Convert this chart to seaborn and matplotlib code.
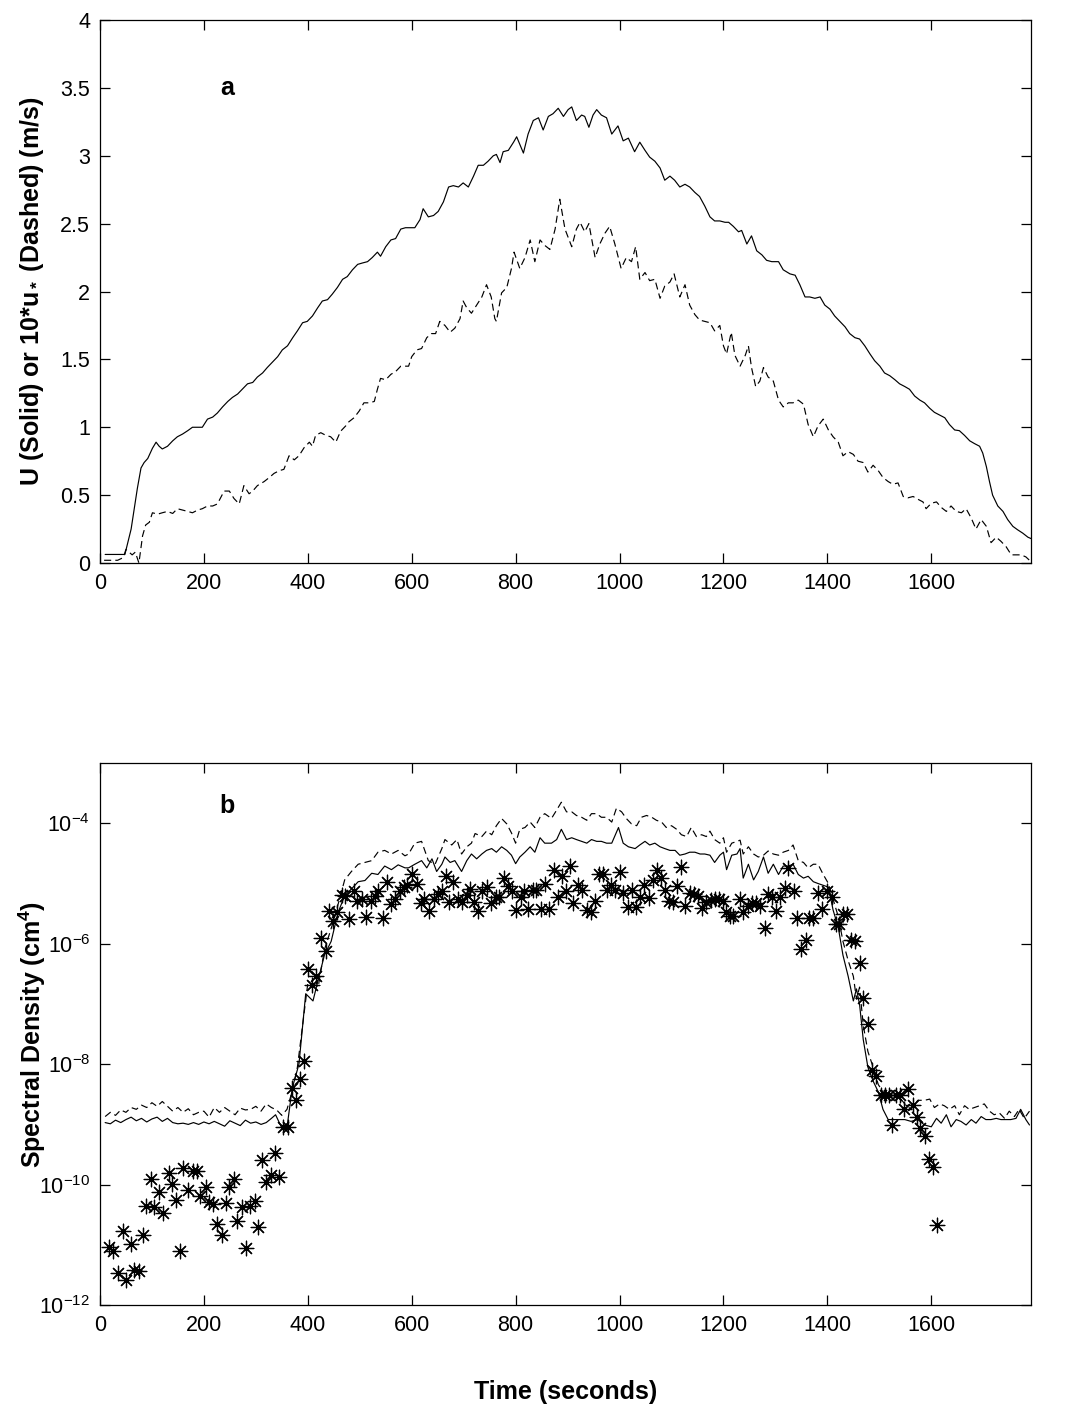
import numpy as np
import matplotlib
matplotlib.use("Agg")
import matplotlib.pyplot as plt
import seaborn as sns
from matplotlib.ticker import FormatStrFormatter, NullLocator, FixedLocator

# ---------------- data ----------------
# Panel a: time (s), U (m/s) solid
u_solid = [(10,0.063),(48,0.063),(53,0.14),(60,0.25),(66,0.40),(72,0.55),(79,0.70),(85,0.74),(92,0.77),
 (101,0.845),(108,0.89),(114,0.86),(120,0.84),(130,0.86),(140,0.90),(149,0.93),(159,0.95),(169,0.975),
 (178,1.0),(188,1.0),(197,1.0),(207,1.06),(217,1.075),(226,1.105),(236,1.15),(246,1.19),(255,1.22),
 (265,1.245),(274,1.28),(284,1.32),(294,1.33),(303,1.37),(313,1.40),(322,1.44),(332,1.48),(342,1.52),
 (351,1.57),(361,1.60),(371,1.66),(380,1.71),(390,1.77),(399,1.78),(409,1.82),(419,1.88),(428,1.93),
 (438,1.94),(447,1.98),(457,2.03),(467,2.09),(476,2.11),(486,2.16),(496,2.20),(505,2.21),(515,2.22),
 (524,2.25),(534,2.29),(540,2.26),(550,2.33),(560,2.38),(569,2.39),(579,2.46),(588,2.47),(598,2.47),
 (606,2.47),(616,2.53),(622,2.61),(632,2.55),(642,2.56),(651,2.59),(661,2.66),(671,2.77),(680,2.78),
 (690,2.77),(699,2.80),(709,2.77),(719,2.85),(728,2.93),(738,2.93),(747,2.96),(757,3.00),(763,3.01),
 (770,2.95),(776,3.03),(786,3.04),(796,3.10),(802,3.14),(815,3.02),(824,3.16),(834,3.26),(844,3.28),
 (853,3.19),(863,3.29),(872,3.31),(882,3.35),(892,3.29),(901,3.34),(908,3.36),(917,3.26),(927,3.30),
 (933,3.29),(941,3.21),(949,3.30),(956,3.34),(965,3.30),(975,3.28),(985,3.16),(997,3.22),(1007,3.11),
 (1017,3.13),(1029,3.03),(1039,3.10),(1049,3.04),(1058,2.99),(1068,2.96),(1078,2.91),(1087,2.82),
 (1097,2.85),(1106,2.82),(1116,2.77),(1126,2.79),(1135,2.77),(1145,2.73),(1154,2.70),(1164,2.63),
 (1174,2.55),(1183,2.52),(1193,2.52),(1203,2.51),(1210,2.51),(1219,2.48),(1229,2.44),(1235,2.45),
 (1245,2.35),(1254,2.41),(1264,2.30),(1274,2.27),(1283,2.23),(1293,2.22),(1306,2.22),(1315,2.16),
 (1328,2.13),(1338,2.12),(1347,2.05),(1357,1.96),(1366,1.96),(1376,1.95),(1386,1.96),(1395,1.90),
 (1405,1.87),(1414,1.82),(1424,1.78),(1434,1.74),(1443,1.69),(1453,1.66),(1462,1.65),(1472,1.60),
 (1482,1.54),(1491,1.49),(1501,1.45),(1510,1.40),(1520,1.38),(1530,1.35),(1539,1.32),(1549,1.30),
 (1558,1.28),(1568,1.23),(1578,1.20),(1587,1.18),(1597,1.14),(1606,1.11),(1616,1.09),(1626,1.07),
 (1635,1.02),(1645,0.98),(1654,0.975),(1664,0.94),(1674,0.90),(1683,0.88),(1693,0.86),(1699,0.81),
 (1706,0.71),(1712,0.60),(1718,0.50),(1728,0.42),(1738,0.38),(1747,0.32),(1757,0.27),(1766,0.245),
 (1776,0.22),(1786,0.19),(1792,0.18)]

# Panel a: time (s), 10*u* (m/s) dashed
ustar_dashed = [(8,0.02),(20,0.02),(34,0.02),(45,0.04),(50,0.10),(56,0.08),(62,0.06),(68,0.08),(75,0.0),
 (82,0.20),(88,0.28),(95,0.30),(101,0.37),(111,0.36),(120,0.37),(130,0.38),(140,0.365),(149,0.40),
 (159,0.39),(169,0.38),(178,0.37),(188,0.39),(197,0.40),(207,0.42),(217,0.42),(226,0.435),(239,0.53),
 (249,0.53),(258,0.475),(268,0.435),(277,0.57),(287,0.51),(294,0.53),(303,0.57),(316,0.60),(326,0.63),
 (335,0.66),(345,0.68),(354,0.69),(364,0.79),(374,0.76),(383,0.79),(393,0.85),(403,0.89),(409,0.86),
 (415,0.94),(425,0.96),(435,0.94),(444,0.93),(454,0.89),(463,0.97),(473,1.01),(479,1.04),(489,1.07),
 (499,1.12),(508,1.18),(518,1.18),(528,1.19),(534,1.28),(540,1.36),(550,1.35),(560,1.39),(569,1.41),
 (579,1.45),(588,1.45),(594,1.45),(600,1.52),(610,1.57),(619,1.58),(629,1.66),(638,1.69),(646,1.69),
 (654,1.78),(664,1.75),(674,1.70),(683,1.73),(693,1.80),(699,1.93),(706,1.88),(715,1.84),(725,1.90),
 (735,1.96),(744,2.05),(753,1.96),(760,1.80),(763,1.78),(773,1.99),(783,2.03),(792,2.17),(797,2.29),
 (808,2.17),(818,2.25),(828,2.38),(837,2.22),(847,2.38),(856,2.34),(866,2.31),(876,2.46),(885,2.68),
 (895,2.46),(908,2.33),(917,2.46),(924,2.51),(933,2.44),(941,2.50),(953,2.25),(962,2.35),(972,2.43),
 (981,2.48),(991,2.35),(1003,2.17),(1013,2.25),(1023,2.22),(1031,2.33),(1039,2.09),(1049,2.14),
 (1058,2.08),(1068,2.09),(1078,1.95),(1087,2.04),(1097,2.07),(1105,2.13),(1116,1.96),(1126,2.05),
 (1135,1.90),(1145,1.83),(1154,1.79),(1164,1.78),(1174,1.77),(1183,1.71),(1193,1.75),(1200,1.60),
 (1206,1.54),(1215,1.70),(1222,1.53),(1232,1.45),(1242,1.53),(1248,1.60),(1254,1.44),(1262,1.30),
 (1270,1.34),(1277,1.44),(1286,1.37),(1296,1.34),(1306,1.20),(1315,1.15),(1325,1.18),(1334,1.18),
 (1344,1.20),(1354,1.17),(1363,1.02),(1373,0.93),(1382,1.01),(1392,1.06),(1402,0.98),(1411,0.93),
 (1421,0.89),(1430,0.79),(1440,0.82),(1450,0.80),(1459,0.75),(1469,0.74),(1478,0.67),(1488,0.72),
 (1498,0.68),(1507,0.63),(1517,0.60),(1526,0.58),(1536,0.59),(1546,0.49),(1555,0.48),(1565,0.49),
 (1574,0.47),(1584,0.45),(1590,0.40),(1600,0.44),(1610,0.45),(1619,0.41),(1629,0.38),(1638,0.42),
 (1648,0.38),(1658,0.37),(1667,0.40),(1677,0.33),(1686,0.25),(1696,0.32),(1706,0.27),(1715,0.15),
 (1725,0.19),(1734,0.16),(1744,0.12),(1754,0.06),(1763,0.06),(1773,0.06),(1782,0.045),(1789,0.02)]

# Panel b: time (s), log10 spectral density (cm^4), solid line
spec_solid_log = [(10,-8.97),(20,-8.99),(30,-8.93),(40,-8.97),(50,-8.92),(60,-8.88),(70,-8.94),(80,-8.90),
 (90,-8.96),(100,-8.91),(110,-8.88),(120,-8.95),(130,-8.90),(140,-8.97),(150,-8.99),(160,-8.98),
 (170,-9.00),(180,-8.97),(190,-9.00),(200,-8.96),(210,-8.99),(220,-8.95),(230,-8.99),(240,-9.03),
 (250,-8.94),(260,-8.98),(270,-9.02),(280,-8.93),(290,-8.98),(300,-8.96),(310,-9.00),(320,-8.97),
 (330,-8.90),(338,-8.84),(350,-9.06),(360,-9.05),(370,-8.40),(383,-8.0),(396,-6.83),(410,-6.95),
 (420,-6.6),(432,-6.19),(445,-5.96),(458,-5.49),(471,-5.2),(484,-5.09),(497,-4.97),(510,-4.95),
 (523,-4.83),(535,-4.85),(548,-4.71),(561,-4.77),(574,-4.69),(587,-4.74),(594,-4.74),(606,-4.68),
 (619,-4.62),(629,-4.74),(639,-4.59),(648,-4.80),(658,-4.68),(664,-4.56),(674,-4.65),(683,-4.62),
 (696,-4.80),(706,-4.62),(715,-4.51),(725,-4.59),(735,-4.51),(744,-4.45),(754,-4.42),(763,-4.48),
 (773,-4.39),(783,-4.45),(792,-4.53),(800,-4.67),(808,-4.56),(818,-4.48),(828,-4.39),(837,-4.48),
 (847,-4.24),(856,-4.33),(869,-4.33),(879,-4.27),(888,-4.10),(898,-4.27),(908,-4.24),(917,-4.27),
 (927,-4.30),(937,-4.33),(946,-4.27),(956,-4.30),(965,-4.30),(975,-4.33),(985,-4.33),(998,-4.07),
 (1007,-4.33),(1017,-4.39),(1030,-4.42),(1039,-4.36),(1049,-4.30),(1058,-4.36),(1068,-4.33),
 (1078,-4.39),(1087,-4.42),(1097,-4.45),(1107,-4.45),(1116,-4.53),(1126,-4.51),(1135,-4.48),
 (1145,-4.48),(1155,-4.51),(1164,-4.51),(1174,-4.53),(1183,-4.65),(1193,-4.53),(1200,-4.48),
 (1206,-4.77),(1216,-4.53),(1226,-4.51),(1232,-4.42),(1238,-4.91),(1248,-4.68),(1258,-4.94),
 (1267,-4.80),(1277,-4.56),(1286,-4.83),(1296,-4.68),(1306,-4.85),(1315,-4.71),(1325,-4.71),
 (1334,-4.68),(1344,-4.85),(1354,-4.91),(1363,-4.88),(1373,-4.97),(1382,-5.00),(1392,-5.03),
 (1402,-5.06),(1411,-5.44),(1421,-5.73),(1430,-6.19),(1440,-6.54),(1450,-6.95),(1456,-6.75),
 (1462,-7.01),(1469,-7.59),(1478,-8.05),(1488,-8.28),(1498,-8.46),(1507,-8.75),(1517,-8.92),
 (1529,-8.92),(1539,-8.92),(1549,-8.92),(1561,-8.95),(1574,-8.92),(1587,-9.01),(1600,-9.04),
 (1610,-8.90),(1619,-8.98),(1629,-8.84),(1638,-9.04),(1648,-8.92),(1657,-8.95),(1667,-9.01),
 (1677,-8.92),(1686,-8.98),(1696,-8.87),(1705,-8.92),(1715,-8.92),(1725,-8.90),(1734,-8.92),
 (1744,-8.92),(1753,-8.92),(1763,-8.90),(1772,-8.75),(1782,-8.92),(1789,-9.01)]

# Panel b: time (s), log10 spectral density (cm^4), dashed line
spec_dashed_log = [(10,-8.87),(20,-8.80),(30,-8.85),(40,-8.76),(50,-8.80),(60,-8.72),(70,-8.75),(80,-8.68),
 (90,-8.72),(100,-8.64),(110,-8.70),(120,-8.62),(130,-8.70),(140,-8.78),(150,-8.72),(160,-8.80),
 (170,-8.74),(180,-8.84),(190,-8.80),(200,-8.78),(210,-8.88),(220,-8.72),(230,-8.80),(240,-8.72),
 (250,-8.78),(260,-8.84),(270,-8.73),(280,-8.76),(290,-8.75),(300,-8.70),(310,-8.78),(320,-8.66),
 (330,-8.72),(340,-8.76),(350,-8.85),(360,-8.75),(370,-8.45),(380,-8.05),(390,-7.35),(400,-6.66),
 (410,-6.66),(420,-6.72),(432,-6.1),(450,-5.61),(471,-4.94),(484,-4.8),(497,-4.68),(510,-4.65),
 (523,-4.62),(535,-4.48),(548,-4.45),(561,-4.51),(574,-4.45),(587,-4.54),(594,-4.51),(606,-4.33),
 (619,-4.30),(632,-4.62),(645,-4.68),(658,-4.42),(664,-4.27),(677,-4.36),(687,-4.27),(696,-4.51),
 (706,-4.39),(715,-4.33),(722,-4.17),(735,-4.22),(744,-4.13),(754,-4.19),(763,-4.04),(773,-3.92),
 (783,-4.01),(792,-4.16),(800,-4.33),(808,-4.10),(818,-4.07),(828,-3.98),(837,-4.07),(847,-3.90),
 (856,-3.84),(869,-3.92),(879,-3.78),(888,-3.65),(898,-3.81),(908,-3.81),(917,-3.87),(927,-3.90),
 (937,-3.95),(946,-3.84),(956,-3.84),(965,-3.90),(975,-3.90),(985,-3.98),(994,-3.75),(1004,-3.81),
 (1013,-3.92),(1023,-4.01),(1033,-4.04),(1042,-3.90),(1052,-3.87),(1062,-3.90),(1071,-3.95),
 (1081,-3.98),(1090,-4.07),(1100,-4.04),(1110,-4.10),(1119,-4.19),(1129,-4.22),(1138,-4.07),
 (1148,-4.22),(1158,-4.19),(1167,-4.22),(1174,-4.13),(1183,-4.27),(1193,-4.33),(1200,-4.24),
 (1206,-4.48),(1216,-4.33),(1226,-4.30),(1232,-4.28),(1238,-4.51),(1248,-4.39),(1258,-4.51),
 (1267,-4.56),(1277,-4.53),(1286,-4.46),(1296,-4.51),(1306,-4.53),(1315,-4.48),(1325,-4.45),
 (1334,-4.36),(1344,-4.62),(1354,-4.65),(1363,-4.74),(1373,-4.68),(1382,-4.68),(1392,-4.85),
 (1402,-5.00),(1411,-5.26),(1421,-5.55),(1430,-5.96),(1440,-6.28),(1450,-6.54),(1456,-6.92),
 (1462,-6.72),(1469,-7.35),(1478,-7.79),(1488,-8.05),(1498,-8.34),(1510,-8.49),(1523,-8.52),
 (1536,-8.52),(1549,-8.66),(1561,-8.75),(1574,-8.60),(1587,-8.60),(1597,-8.58),(1606,-8.72),
 (1616,-8.66),(1625,-8.69),(1635,-8.75),(1645,-8.69),(1654,-8.84),(1664,-8.69),(1673,-8.75),
 (1683,-8.72),(1693,-8.69),(1702,-8.66),(1712,-8.78),(1721,-8.84),(1731,-8.81),(1741,-8.90),
 (1750,-8.78),(1760,-8.87),(1769,-8.75),(1779,-8.90),(1789,-8.78)]

# Panel b: time (s), log10 spectral density (cm^4), asterisk markers
spec_star_log = [(16.7,-11.03),(25.6,-11.10),(34.0,-11.47),(43.6,-10.77),(50.0,-11.58),(59.6,-10.99),
 (66.0,-11.41),(75.6,-11.44),(82.1,-10.84),(88.5,-10.35),(98.1,-9.91),(104.5,-10.37),(114.1,-10.13),
 (121.8,-10.47),(132.1,-9.80),(138.5,-9.99),(146.2,-10.25),(153.8,-11.10),(160.3,-9.73),(169.2,-10.09),
 (178.2,-9.77),(185.9,-9.77),(192.3,-10.19),(203.8,-10.04),(210.3,-10.29),(217.9,-10.32),(225.0,-10.66),
 (234.6,-10.84),(242.3,-10.30),(248.7,-10.04),(258.3,-9.91),(264.7,-10.60),(273.1,-10.37),(280.8,-11.06),
 (289.7,-10.35),(298.1,-10.27),(305.1,-10.70),(312.8,-9.59),(320.5,-9.96),(329.5,-9.84),(337.2,-9.48),
 (344.9,-9.87),(352.6,-9.04),(361.5,-9.05),(369.2,-8.40),(376.9,-8.59),(384.6,-8.24),(392.3,-7.94),
 (401.3,-6.42),(409.0,-6.69),(416.7,-6.54),(425.0,-5.90),(434.6,-6.12),(441.0,-5.45),(448.7,-5.63),
 (457.1,-5.48),(465.4,-5.19),(471.2,-5.20),(479.5,-5.59),(488.5,-5.13),(495.5,-5.29),(503.8,-5.25),
 (511.5,-5.55),(521.2,-5.29),(529.5,-5.20),(535.9,-5.12),(544.9,-5.57),(553.2,-4.97),(559.6,-5.34),
 (568.0,-5.26),(576.9,-5.12),(585.3,-5.05),(591.7,-5.03),
 (601.3,-4.84),(609.6,-5.00),(617.9,-5.32),(624.4,-5.25),(633.3,-5.45),(643.6,-5.26),(650,-5.17),
 (657.7,-5.12),(665.4,-4.87),(671.8,-5.31),(680.1,-4.97),(688.5,-5.26),(696.2,-5.31),(705.8,-5.19),
 (712.2,-5.09),(720.5,-5.31),(728.2,-5.45),(735.9,-5.13),(744.2,-5.06),(752.6,-5.32),(761.5,-5.22),
 (767.9,-5.23),(778.2,-4.91),(784.6,-5.04),(792.3,-5.12),(800,-5.44),(810.3,-5.23),(816.7,-5.12),
 (824.4,-5.42),(834,-5.10),(839.7,-5.10),(848.7,-5.42),(856.4,-5.00),(864.1,-5.42),(873.1,-4.77),
 (880.8,-5.22),(888.5,-4.88),(896.2,-5.13),(903.8,-4.71),(910.9,-5.33),(919.2,-5.02),(926.9,-5.10),
 (936.5,-5.44),(944.9,-5.48),(952.6,-5.29),(960.3,-4.84),(968,-4.84),(975,-5.10),(983.3,-5.03),
 (991,-5.10),(1000,-4.81),(1007,-5.16),(1015.4,-5.39),(1023.1,-5.10),(1031.4,-5.39),(1039.1,-5.23),
 (1047.4,-5.03),(1056.4,-5.24),(1064.7,-4.94),(1071.2,-4.77),(1079.5,-4.91),(1087.2,-5.10),
 (1094.9,-5.29),(1103.2,-5.31),(1111.5,-5.04),(1119.2,-4.73),(1126.9,-5.38),(1135.3,-5.15),
 (1143.6,-5.17),(1151.3,-5.20),(1159,-5.41),(1167.3,-5.31),(1175.6,-5.28),(1183.3,-5.26),
 (1191,-5.26),(1199.4,-5.29),(1205.8,-5.48),
 (1213,-5.54),(1219,-5.54),(1232,-5.26),(1238,-5.48),(1248,-5.38),(1254,-5.32),(1262,-5.32),
 (1270,-5.38),(1280,-5.74),(1285,-5.17),(1294,-5.22),(1302,-5.45),(1309,-5.22),(1318,-5.08),
 (1325,-4.75),(1336,-5.12),(1342,-5.58),(1350,-6.08),(1358,-5.94),(1364,-5.57),(1373,-5.57),
 (1381,-5.16),(1390,-5.42),(1399,-5.12),(1408,-5.23),(1416,-5.67),(1422,-5.68),(1430,-5.51),
 (1437,-5.51),(1446,-5.93),(1453,-5.95),(1462,-6.32),(1469,-6.90),(1478,-7.34),(1486,-8.10),
 (1494,-8.19),(1503,-8.52),(1510,-8.52),(1518,-8.51),(1524,-9.01),(1533,-8.52),(1539,-8.52),
 (1547,-8.75),(1555,-8.41),(1565,-8.68),(1573,-8.88),(1579,-9.06),(1588,-9.20),(1595,-9.58),
 (1603,-9.70),(1611,-10.67)]

x_ticks = [0, 200, 400, 600, 800, 1000, 1200, 1400, 1600]
top_y_ticks = [0, 0.5, 1, 1.5, 2, 2.5, 3, 3.5, 4]
bot_y_exponents = [-12, -10, -8, -6, -4]
x_max = 1792

# ---------------- style ----------------
sns.set_theme(style="ticks")
plt.rcParams["font.family"] = ["Liberation Sans", "DejaVu Sans"]
plt.rcParams["mathtext.fontset"] = "custom"
plt.rcParams["mathtext.rm"] = "Liberation Sans"
plt.rcParams["mathtext.it"] = "Liberation Sans:italic"
plt.rcParams["mathtext.bf"] = "Liberation Sans:bold"
plt.rcParams["mathtext.default"] = "regular"
plt.rcParams["text.color"] = "black"
plt.rcParams["axes.labelcolor"] = "black"
plt.rcParams["xtick.color"] = "black"
plt.rcParams["ytick.color"] = "black"

TICK_FS = 15.5
LAB_FS = 18
LW = 0.85
DASH = (0, (6, 3.5))

fig = plt.figure(figsize=(10.69, 14.21), dpi=100)
ax1 = fig.add_axes([0.0935, 0.6038, 0.871, 0.3821])
ax2 = fig.add_axes([0.0935, 0.0816, 0.871, 0.3814])


def unzip(pairs):
    a = np.array(pairs, dtype=float)
    return a[:, 0], a[:, 1]


def style_axes(ax):
    for s in ax.spines.values():
        s.set_visible(True)
        s.set_color("black")
        s.set_linewidth(0.9)
    ax.tick_params(axis="both", which="major", direction="in", length=7, width=0.9,
                   top=True, right=True, labelsize=TICK_FS, colors="black", pad=7)
    ax.set_facecolor("white")


# ---- panel a ----
t, v = unzip(u_solid)
sns.lineplot(x=t, y=v, ax=ax1, color="black", lw=LW, estimator=None, sort=False)
t, v = unzip(ustar_dashed)
sns.lineplot(x=t, y=v, ax=ax1, color="black", lw=LW, linestyle=DASH, estimator=None, sort=False)
ax1.set_xlim(0, x_max)
ax1.set_ylim(0, 4)
ax1.xaxis.set_major_locator(FixedLocator(x_ticks))
ax1.yaxis.set_major_locator(FixedLocator(top_y_ticks))
ax1.yaxis.set_major_formatter(FormatStrFormatter("%g"))
style_axes(ax1)
ax1.set_ylabel(r"U (Solid) or 10*u$_*$ (Dashed) (m/s)", fontsize=LAB_FS, fontweight="bold",
               va="center", color="black")
ax1.yaxis.set_label_coords(-0.073, 0.5)
ax1.text(245, 3.5, "a", fontsize=LAB_FS, fontweight="bold", ha="center", va="center", color="black")

# ---- panel b ----
t, v = unzip(spec_solid_log)
sns.lineplot(x=t, y=np.power(10.0, v), ax=ax2, color="black", lw=LW, estimator=None, sort=False)
t, v = unzip(spec_dashed_log)
sns.lineplot(x=t, y=np.power(10.0, v), ax=ax2, color="black", lw=LW, linestyle=DASH,
             estimator=None, sort=False)
t, v = unzip(spec_star_log)
sns.scatterplot(x=t, y=np.power(10.0, v), ax=ax2, color="black", marker=(8, 2, 0), s=110,
                linewidth=0.9, zorder=3)
ax2.set_yscale("log")
ax2.set_xlim(0, x_max)
ax2.set_ylim(1e-12, 1e-3)
ax2.xaxis.set_major_locator(FixedLocator(x_ticks))
ax2.yaxis.set_major_locator(FixedLocator([10.0 ** e for e in bot_y_exponents]))
ax2.yaxis.set_minor_locator(NullLocator())
ax2.set_yticklabels([r"10$^{%d}$" % e for e in bot_y_exponents])
style_axes(ax2)
ax2.set_ylabel(r"Spectral Density (cm$^\mathbf{4}$)", fontsize=LAB_FS, fontweight="bold",
               va="center", color="black")
ax2.yaxis.set_label_coords(-0.073, 0.5)
ax2.set_xlabel("Time (seconds)", fontsize=LAB_FS, fontweight="bold", va="center", color="black")
ax2.xaxis.set_label_coords(0.5, -0.16)
ax2.text(245, 10 ** -3.72, "b", fontsize=LAB_FS, fontweight="bold", ha="center", va="center",
         color="black")

fig.savefig("out.png", dpi=100, facecolor="white")
